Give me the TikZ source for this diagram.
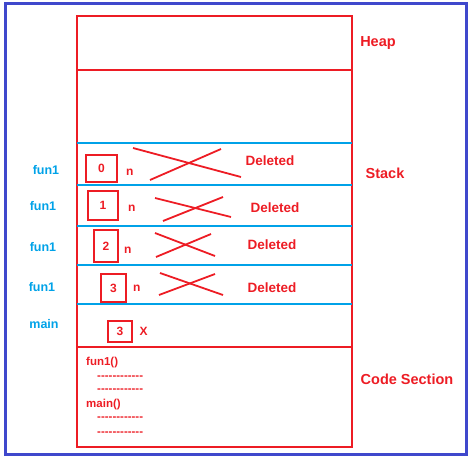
\documentclass[tikz,border=0pt]{standalone}
\usepackage{fontspec}
\setmainfont{Liberation Sans}
\usetikzlibrary{positioning}

\definecolor{memred}{HTML}{ED1C24}
\definecolor{frameblue}{HTML}{00A2E8}
\definecolor{edgeblue}{HTML}{3F48CC}

% a row of plain hyphens, kept apart so they stay hyphens
\newcommand{\dashrow}{\foreach \k in {1,...,12}{-\kern0pt}}

\begin{document}
\begin{tikzpicture}[x=1pt,y=-1pt,
  redline/.style={draw=memred,line width=1.8pt},
  blueline/.style={draw=frameblue,line width=1.8pt},
  val/.style={draw=memred,line width=1.6pt,text=memred,inner sep=0pt,
    font=\bfseries\fontsize{12}{14}\selectfont},
  tag/.style={text=memred,inner sep=0pt,font=\bfseries\fontsize{12}{14}\selectfont},
  gone/.style={text=memred,inner sep=0pt,font=\bfseries\fontsize{13.5}{16}\selectfont},
  part/.style={text=memred,inner sep=0pt,font=\bfseries\fontsize{14.5}{17}\selectfont},
  call/.style={text=frameblue,inner sep=0pt,font=\bfseries\fontsize{12.5}{15}\selectfont},
  code/.style={text=memred,anchor=west,inner sep=0pt,font=\bfseries\fontsize{11.5}{13}\selectfont}]

\useasboundingbox (0,0) rectangle (474,460);

% outer frame
\draw[edgeblue,line width=3pt] (5,4) rectangle (466,454);

% memory column
\draw[redline] (77,16) rectangle (352,447);
\draw[redline] (77,70) -- (352,70);
\draw[redline] (77,347) -- (352,347);

% stack frames
\draw[blueline] (77,143) -- (352,143);
\draw[blueline] (77,185) -- (352,185);
\draw[blueline] (77,226) -- (352,226);
\draw[blueline] (77,265) -- (352,265);
\draw[blueline] (77,304) -- (352,304);

% section names
\node[part] (heap)  at (378,43)  {Heap};
\node[part] (stack) at (385,173) {Stack};
\node[part] (codes) at (407,379) {Code Section};

% frame names
\node[call] (f0) at (46,170) {fun1};
\node[call] (f1) at (43,206) {fun1};
\node[call] (f2) at (43,247) {fun1};
\node[call] (f3) at (42,287) {fun1};
\node[call] (fm) at (44,324) {main};

% values
\node[val,minimum width=31pt,minimum height=27pt] (b0) at (101.5,168.5) {0};
\node[val,minimum width=30pt,minimum height=29pt] (b1) at (103,205.5) {1};
\node[val,minimum width=24pt,minimum height=32pt] (b2) at (106,246) {2};
\node[val,minimum width=25pt,minimum height=28pt] (b3) at (113.5,288) {3};
\node[val,minimum width=24pt,minimum height=21pt] (bx) at (120,331.5) {3};

\node[tag] (n0) [right=8pt of b0,yshift=-3.5pt] {n};
\node[tag] (n1) [right=9pt of b1,yshift=-2.5pt] {n};
\node[tag] (n2) [right=5pt of b2,yshift=-4pt] {n};
\node[tag] (n3) [right=6pt of b3] {n};
\node[tag] (nx) [right=6.5pt of bx] {X};

% crossed out
\draw[redline] (133,148) -- (241,177);
\draw[redline] (150,180) -- (221,149);
\draw[redline] (155,198) -- (231,217);
\draw[redline] (163,221) -- (223,197);
\draw[redline] (155,233) -- (215,256);
\draw[redline] (156,257) -- (211,234);
\draw[redline] (160,273) -- (223,295);
\draw[redline] (159,295) -- (215,274);

\node[gone] (d0) at (270,161) {Deleted};
\node[gone] (d1) at (275,208) {Deleted};
\node[gone] (d2) at (272,245) {Deleted};
\node[gone] (d3) at (272,288) {Deleted};

% code lines
\node[code] (c0) at (86,363) {fun1()};
\node[code] (c1) at (97,378) {\dashrow};
\node[code] (c2) at (97,391) {\dashrow};
\node[code] (c3) at (86,405) {main()};
\node[code] (c4) at (97,419) {\dashrow};
\node[code] (c5) at (97,434) {\dashrow};

\end{tikzpicture}
\end{document}
